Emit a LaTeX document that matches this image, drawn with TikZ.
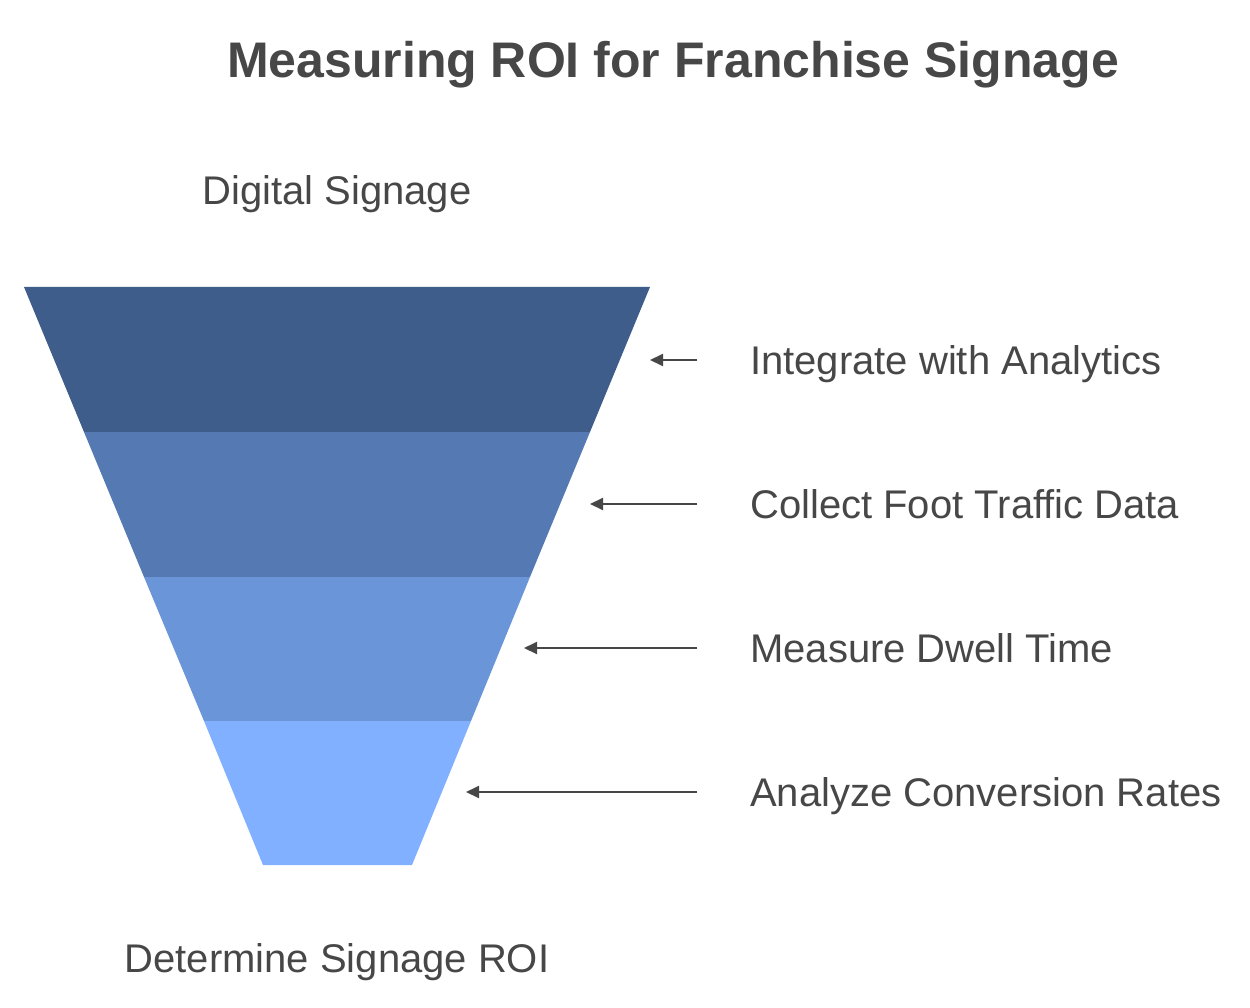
\documentclass[tikz,border=0pt]{standalone}
\usepackage{fontspec}
\setmainfont{Liberation Sans}
\usetikzlibrary{arrows.meta}
\definecolor{txt}{HTML}{474747}
\definecolor{bandA}{HTML}{3F5D8B}
\definecolor{bandB}{HTML}{5579B3}
\definecolor{bandC}{HTML}{6A95D8}
\definecolor{bandD}{HTML}{80B0FF}
\definecolor{arr}{HTML}{474747}
\tikzset{
  lbl/.style={anchor=base west, inner sep=0pt, text=txt, font=\fontsize{40}{48}\selectfont},
  clbl/.style={anchor=base, inner sep=0pt, text=txt, font=\fontsize{40}{48}\selectfont},
  ttl/.style={anchor=base, inner sep=0pt, text=txt, font=\fontsize{50}{60}\selectfont\bfseries},
  pointer/.style={draw=arr, line width=2pt, -{Triangle[length=13pt,width=12pt]}},
}
\begin{document}
\begin{tikzpicture}[x=1pt,y=-1pt]
\useasboundingbox (0,0) rectangle (1250,1008);
% funnel bands
\fill[bandA] (24,287) -- (650,287) -- (590,432) -- (84,432) -- cycle;
\fill[bandB] (84,432) -- (590,432) -- (530,577) -- (144,577) -- cycle;
\fill[bandC] (144,577) -- (530,577) -- (471,721) -- (204,721) -- cycle;
\fill[bandD] (204,721) -- (471,721) -- (412,865) -- (263,865) -- cycle;
% texts
\node[ttl] (title) at (673,78) {Measuring ROI for Franchise Signage};
\node[clbl] (top) at (337,205) {Digital Signage};
\node[clbl] (bottom) at (337,972) {Determine Signage ROI};
\node[lbl] (l1) at (750,374) {Integrate with Analytics};
\node[lbl] (l2) at (750,518) {Collect Foot Traffic Data};
\node[lbl] (l3) at (750,662) {Measure Dwell Time};
\node[lbl] (l4) at (750,806) {Analyze Conversion Rates};
% arrows
\coordinate (s1) at (697,360); \coordinate (t1) at (650,360);
\coordinate (s2) at (697,504); \coordinate (t2) at (590,504);
\coordinate (s3) at (697,648); \coordinate (t3) at (524,648);
\coordinate (s4) at (697,792); \coordinate (t4) at (466,792);
\draw[pointer] (s1) -- (t1);
\draw[pointer] (s2) -- (t2);
\draw[pointer] (s3) -- (t3);
\draw[pointer] (s4) -- (t4);
\end{tikzpicture}
\end{document}
